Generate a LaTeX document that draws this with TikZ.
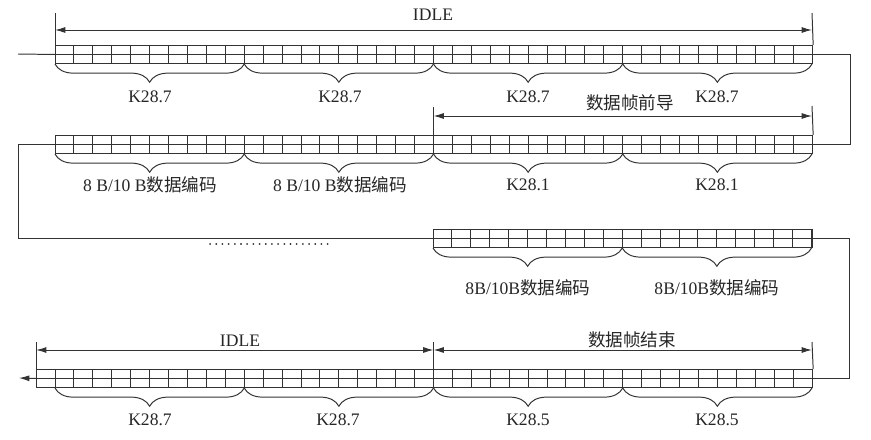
\documentclass[tikz,border=0pt]{standalone}
\usepackage{fontspec}
\setmainfont{Liberation Serif}
\newfontfamily\cjk{Noto Sans CJK SC}
\usetikzlibrary{arrows.meta, decorations.pathreplacing, calc}

\begin{document}
\begin{tikzpicture}[
          x=0.025cm, y=-0.025cm, % one unit = one pixel, y runs downwards
          line width=0.7pt, draw=black!80,
          every node/.style={font=\fontsize{12.5}{14}\selectfont, text=black!85, inner sep=1pt},
          strip/.style={draw, anchor=north west, minimum height=0.45cm, inner sep=0pt}, % row of code cells
          span/.style={draw, {Latex[length=2.6mm,width=1.5mm]}-{Latex[length=2.6mm,width=1.5mm]}},
          group/.style={draw, decorate, decoration={brace, mirror, amplitude=13pt}},
          dotline/.style={line width=1.3pt, line cap=round, dash pattern=on 0.1pt off 4.3pt}
        ]
        \useasboundingbox (0,0) rectangle (871,440);

        % the four rows of cells
        \node[strip, minimum width=18.925cm] (r1) at (55,45) {};
        \node[strip, minimum width=18.925cm] (r2) at (55,135) {};
        \node[strip, minimum width=9.4625cm] (r3) at (433,229) {};
        \node[strip, minimum width=19.3981cm] (r4) at (36.075,369) {};
        \foreach \r/\n in {r1/40, r2/40, r3/20, r4/41} {
          \draw (\r.west) -- (\r.east);
          \foreach \i in {1,...,\n}
            \draw (\r.north west) ++(\i*18.925,0) -- ++(0,18);
        }

        % signal path
        \coordinate (in) at (18,54);
        \coordinate (out) at (19,378);
        \draw (in) -- (r1.west);
        \draw (r1.east) -- ++(37,0) |- (r2.east);
        \draw (r2.west) -- ++(-37,0) |- (r3.west);
        \draw (r3.east) -- ++(37,0) |- (r4.east);
        \draw[-{Latex[length=2.6mm,width=1.5mm]}] (r4.west) -- (out);
        \draw[dotline] (210,244) -- (333,244);

        % braces under the code groups
        \foreach \k in {0,...,3} {
          \draw[group] ($(r1.south west)+(\k*189.25,0)$) -- ++(189.25,0);
          \draw[group] ($(r2.south west)+(\k*189.25,0)$) -- ++(189.25,0);
        }
        \foreach \k in {0,1} {
          \draw[group] ($(r3.south west)+(\k*189.25,0)$) -- ++(189.25,0);
          \draw[group] ($(r4.south west)+(18.925+\k*189.25,0)$) -- ++(189.25,0);
          \draw[group] ($(r4.south west)+(397.425+\k*189.25,0)$) -- ++(189.25,0);
        }

        % row 1
        \draw (r1.north west) -- (55,13);
        \draw (r1.north east) -- (812,13);
        \coordinate (s1a) at (55,30);
        \coordinate (s1b) at (812,30);
        \draw[span] (s1a) -- (s1b);
        \node (idle1) at (433,15) {IDLE};
        \node (k1a) at (150,97) {K28.7};
        \node (k1b) at (340,97) {K28.7};
        \node (k1c) at (528,97) {K28.7};
        \node (k1d) at (717,97) {K28.7};

        % row 2
        \draw ($(r2.north west)+(378.5,0)$) -- (433.5,107);
        \draw (r2.north east) -- (812,106);
        \coordinate (s2a) at (433.5,116);
        \coordinate (s2b) at (812,116);
        \draw[span] (s2a) -- (s2b);
        \node (pre) at (630,103) {\cjk 数据帧前导};
        \node (d2a) at (150,185) {8 B/10 B{\cjk 数据编码}};
        \node (d2b) at (340,185) {8 B/10 B{\cjk 数据编码}};
        \node (k2c) at (528,185) {K28.1};
        \node (k2d) at (717,185) {K28.1};

        % row 3
        \node (d3a) at (528,288) {8B/10B{\cjk 数据编码}};
        \node (d3b) at (717,288) {8B/10B{\cjk 数据编码}};

        % row 4
        \draw (r4.north west) -- (36.075,342);
        \draw ($(r4.north west)+(397.425,0)$) -- (433.5,342);
        \draw (r4.north east) -- (812,342);
        \coordinate (s4a) at (36.075,350);
        \coordinate (s4b) at (433.5,350);
        \coordinate (s4c) at (812,350);
        \draw[span] (s4a) -- (s4b);
        \draw[span] (s4b) -- (s4c);
        \node (idle4) at (240,341) {IDLE};
        \node (eof) at (632,340) {\cjk 数据帧结束};
        \node (k4a) at (150,420) {K28.7};
        \node (k4b) at (338,420) {K28.7};
        \node (k4c) at (528,420) {K28.5};
        \node (k4d) at (717,420) {K28.5};
        \end{tikzpicture}
\end{document}
